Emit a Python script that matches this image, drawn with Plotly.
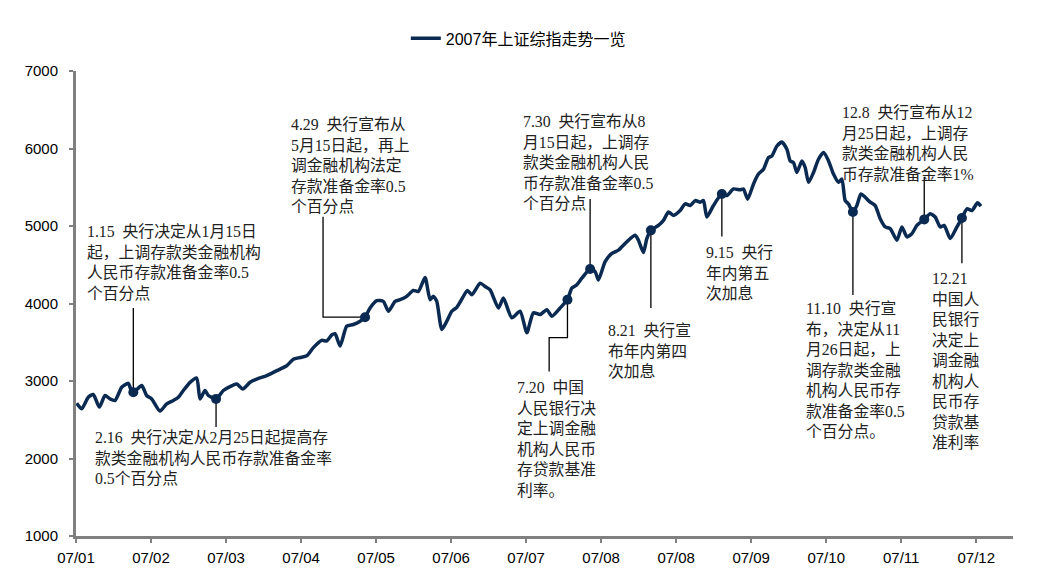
import plotly.graph_objects as go

# ---- data ----
# x: position in months from 07/01 tick (0) to 07/12 tick (12)
months = [0.009, 0.076, 0.164, 0.231, 0.311, 0.387, 0.453, 0.52, 0.609, 0.697, 0.729, 0.764,
          0.876, 0.941, 1.009, 1.12, 1.209, 1.297, 1.364, 1.431, 1.52, 1.609, 1.653, 1.72,
          1.764, 1.867, 1.964, 2.053, 2.143, 2.223, 2.32, 2.409, 2.543, 2.676, 2.809, 2.897,
          2.987, 3.076, 3.164, 3.276, 3.343, 3.409, 3.453, 3.52, 3.609, 3.697, 3.787, 3.853,
          3.92, 4.009, 4.097, 4.164, 4.253, 4.32, 4.409, 4.497, 4.564, 4.653, 4.72, 4.764,
          4.809, 4.876, 4.943, 5.009, 5.076, 5.164, 5.217, 5.276, 5.387, 5.453, 5.52, 5.631,
          5.697, 5.809, 5.92, 6.009, 6.097, 6.187, 6.276, 6.343, 6.453, 6.551, 6.609, 6.676,
          6.743, 6.853, 6.92, 6.964, 7.053, 7.143, 7.231, 7.276, 7.343, 7.453, 7.497, 7.564,
          7.609, 7.663, 7.764, 7.831, 7.897, 7.964, 8.053, 8.12, 8.187, 8.253, 8.32, 8.364,
          8.409, 8.497, 8.609, 8.676, 8.764, 8.853, 8.897, 8.953, 9.031, 9.097, 9.164, 9.231,
          9.276, 9.343, 9.409, 9.476, 9.52, 9.564, 9.609, 9.676, 9.72, 9.764, 9.831, 9.897,
          9.964, 10.031, 10.097, 10.164, 10.209, 10.253, 10.297, 10.356, 10.409, 10.463, 10.52,
          10.587, 10.653, 10.72, 10.787, 10.853, 10.943, 11.009, 11.076, 11.143, 11.209,
          11.307, 11.387, 11.453, 11.52, 11.573, 11.653, 11.743, 11.809, 11.876, 11.943,
          12.017, 12.063]
index_values = [2714, 2641, 2791, 2826, 2663, 2813, 2769, 2749, 2919, 2970, 2897, 2855,
                2941, 2813, 2769, 2612, 2705, 2749, 2791, 2877, 2983, 3038, 2769, 2877,
                2813, 2769, 2877, 2928, 2961, 2897, 2983, 3025, 3069, 3133, 3197, 3281,
                3303, 3325, 3431, 3524, 3517, 3593, 3610, 3452, 3708, 3729, 3772, 3823,
                3942, 4036, 4028, 3900, 4028, 4049, 4092, 4169, 4156, 4335, 4049, 4092,
                4028, 3665, 3772, 3900, 3951, 4092, 4169, 4113, 4262, 4220, 4177, 3942,
                4070, 3815, 3900, 3623, 3879, 3857, 3921, 3836, 3942, 4049, 4198, 4241,
                4326, 4445, 4412, 4304, 4540, 4646, 4688, 4732, 4796, 4880, 4816, 4659,
                4838, 4944, 5008, 5072, 5180, 5137, 5200, 5286, 5264, 5328, 5307, 5328,
                5116, 5264, 5414, 5393, 5478, 5467, 5478, 5346, 5543, 5670, 5733, 5883,
                5904, 6032, 6083, 5989, 5840, 5819, 5691, 5840, 5755, 5563, 5691, 5861,
                5947, 5840, 5670, 5563, 5606, 5328, 5286, 5180, 5264, 5414, 5371,
                5307, 5264, 5094, 4988, 4966, 4816, 4988, 4860, 4902, 5008,
                5085, 5158, 5116, 4988, 5008, 4838, 4988, 5103, 5222, 5200,
                5299, 5256]
tick_positions = list(range(13))
tick_labels = ["07/01", "07/02", "07/03", "07/04", "07/05", "07/06", "07/07",
               "07/08", "07/08", "07/09", "07/10", "07/11", "07/12"]
series_name = "2007年上证综指走势一览"

event_months = [0.764, 1.867, 3.853, 6.551, 6.853, 7.663, 8.609, 10.356, 11.307, 11.809]
event_texts = [
    "1.15\u00a0\u00a0央行决定从1月15日<br>起，上调存款类金融机构<br>人民币存款准备金率0.5<br>个百分点",
    "2.16\u00a0\u00a0央行决定从2月25日起提高存<br>款类金融机构人民币存款准备金率<br>0.5个百分点",
    "4.29\u00a0\u00a0央行宣布从<br>5月15日起，再上<br>调金融机构法定<br>存款准备金率0.5<br>个百分点",
    "7.20\u00a0\u00a0中国<br>人民银行决<br>定上调金融<br>机构人民币<br>存贷款基准<br>利率。",
    "7.30\u00a0\u00a0央行宣布从8<br>月15日起，上调存<br>款类金融机构人民<br>币存款准备金率0.5<br>个百分点",
    "8.21\u00a0\u00a0央行宣<br>布年内第四<br>次加息",
    "9.15\u00a0\u00a0央行<br>年内第五<br>次加息",
    "11.10\u00a0\u00a0央行宣<br>布，决定从11<br>月26日起，上<br>调存款类金融<br>机构人民币存<br>款准备金率0.5<br>个百分点。",
    "12.8\u00a0\u00a0央行宣布从12<br>月25日起，上调存<br>款类金融机构人民<br>币存款准备金率1%",
    "12.21<br>中国人<br>民银行<br>决定上<br>调金融<br>机构人<br>民币存<br>贷款基<br>准利率",
]

# ---- layout helpers (positions of labels / leader lines) ----
label_pos = [(0.12, 5060), (0.227, 2410), (2.84, 6440), (5.853, 3050), (5.933, 6490),
             (7.067, 3790), (8.373, 4790), (9.707, 4075), (10.187, 6605), (11.387, 4460)]
# leader path after the dot: list of (x, y) vertices
leader_paths = [
    [(None, 3942)],
    [(None, 2407)],
    [(3.293, None), (3.293, 5119)],
    [(None, 3559), (6.307, 3559), (6.307, 3124)],
    [(None, 5350)],
    [(None, 3942)],
    [(None, 4864)],
    [(None, 4109)],
    [(None, 5631)],
    [(None, 4518)],
]

LINE_COLOR = "#0B2A52"
event_vals = [index_values[months.index(m)] for m in event_months]

fig = go.Figure()
fig.add_trace(go.Scatter(x=months, y=index_values, mode="lines", name=series_name,
                         line=dict(color=LINE_COLOR, width=3.5, shape="spline", smoothing=0.6),
                         showlegend=True))
fig.add_trace(go.Scatter(x=event_months, y=event_vals, mode="markers", showlegend=False,
                         marker=dict(color=LINE_COLOR, size=10), hoverinfo="skip"))

shapes = []
for (ex, ey), path in zip(zip(event_months, event_vals), leader_paths):
    px, py = ex, ey
    pts = [(px, py)]
    for vx, vy in path:
        nx = px if vx is None else vx
        ny = py if vy is None else vy
        pts.append((nx, ny))
        px, py = nx, ny
    d = "M " + " L ".join(f"{x},{y}" for x, y in pts)
    shapes.append(dict(type="path", path=d, xref="x", yref="y",
                       line=dict(color="black", width=1.3), layer="below"))

annotations = []
for (lx, ly), txt in zip(label_pos, event_texts):
    annotations.append(dict(x=lx, y=ly, xref="x", yref="y", text=txt, showarrow=False,
                            xanchor="left", yanchor="top", align="left",
                            font=dict(family="Liberation Serif, Noto Sans CJK SC", size=15.8,
                                      color="#222222")))

fig.update_layout(
    width=1047, height=578,
    margin=dict(l=76, r=34, t=71, b=38),
    paper_bgcolor="white", plot_bgcolor="white",
    shapes=shapes, annotations=annotations,
    legend=dict(orientation="h", x=0.352, xanchor="left", y=1.07, yanchor="middle",
                font=dict(family="Liberation Sans, Noto Sans CJK SC", size=16, color="black"),
                bgcolor="rgba(0,0,0,0)", itemwidth=30),
    xaxis=dict(range=[0, 12.49], tickvals=tick_positions, ticktext=tick_labels,
               showgrid=False, zeroline=False, showline=True, linecolor="#808080", linewidth=3,
               ticks="outside", ticklen=4, tickwidth=2, tickcolor="#808080",
               ticklabelstandoff=2,
               tickfont=dict(family="Liberation Sans, Arial", size=15, color="black")),
    yaxis=dict(range=[1000, 7000], dtick=1000, tick0=1000,
               showgrid=False, zeroline=False, showline=True, linecolor="#808080", linewidth=3,
               ticks="outside", ticklen=4, tickwidth=2, tickcolor="#808080",
               ticklabelstandoff=8,
               tickfont=dict(family="Liberation Sans, Arial", size=15, color="black")),
)

fig.write_html("out.html")
